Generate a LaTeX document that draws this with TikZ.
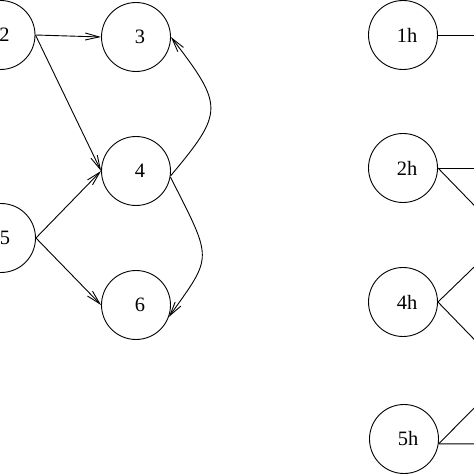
\documentclass[tikz,border=0pt]{standalone}
\usepackage{fontspec}
\setmainfont{Liberation Serif}
\usetikzlibrary{arrows.meta}
\tikzset{
  vtx/.style={circle, draw, minimum size=69bp, inner sep=0pt, line width=0.9bp,
    font=\fontsize{20.5}{24}\selectfont},
  arr/.style={line width=0.9bp, -{Straight Barb[length=14bp,width=7bp]}},
  ln/.style={line width=0.9bp}
}
\newcommand{\lb}[1]{\hspace*{8bp}#1}
\begin{document}
\begin{tikzpicture}[x=1bp,y=-1bp]
\useasboundingbox (0,0) rectangle (474,474);
\clip (0,0) rectangle (474,474);
% left graph
\node[vtx] (n2) at (0.5,35) {\lb{2}};
\node[vtx] (n3) at (136,37) {\lb{3}};
\node[vtx] (n4) at (136,171) {\lb{4}};
\node[vtx] (n5) at (1,238) {\lb{5}};
\node[vtx] (n6) at (136,305) {\lb{6}};
\draw[arr] (n2.east) -- (n3.west);
\draw[arr] (n2.east) -- (n4.west);
\draw[arr] (n5.east) -- (n4.west);
\draw[arr] (n5.east) -- (n6.west);
\draw[arr] (n4.-8) .. controls (224,112) and (224,106) .. (n3.east);
\draw[arr] (n4.-10) .. controls (213,261) and (213,255) .. (n6.-20);
% right graph
\node[vtx] (h1) at (403,35) {\lb{1h}};
\node[vtx] (h2) at (403,168) {\lb{2h}};
\node[vtx] (h4) at (403,302) {\lb{4h}};
\node[vtx] (h5) at (404,439) {\lb{5h}};
\coordinate (e1) at (500,35);
\coordinate (e2a) at (500,168);
\coordinate (e2b) at (500,232);
\coordinate (e4a) at (500,242);
\coordinate (e4b) at (500,366);
\coordinate (e5a) at (500,382);
\coordinate (e5b) at (500,444);
\draw[ln] (h1.east) -- (e1);
\draw[ln] (h2.east) -- (e2a);
\draw[ln] (h2.east) -- (e2b);
\draw[ln] (h4.east) -- (e4a);
\draw[ln] (h4.east) -- (e4b);
\draw[ln] (h5.-8) -- (e5a);
\draw[ln] (h5.-8) -- (e5b);
\end{tikzpicture}
\end{document}
